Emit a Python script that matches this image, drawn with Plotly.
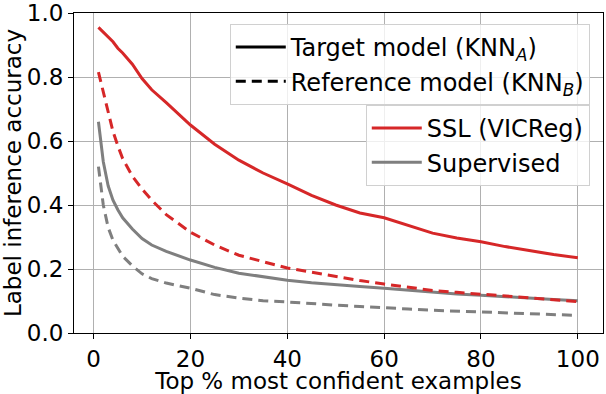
import plotly.graph_objects as go

pct = [1, 2, 3, 4, 5, 6, 8, 10, 12, 15, 20, 25, 30, 35, 40, 45, 50, 55, 60, 65, 70, 75, 80, 85, 90, 95, 100]

ssl_target = [0.955, 0.94, 0.925, 0.91, 0.89, 0.875, 0.84, 0.795, 0.76, 0.72, 0.65, 0.59, 0.54, 0.50, 0.466,
              0.43, 0.40, 0.375, 0.36, 0.337, 0.312, 0.297, 0.285, 0.27, 0.257, 0.245, 0.235]
ssl_reference = [0.815, 0.75, 0.69, 0.63, 0.585, 0.545, 0.49, 0.45, 0.415, 0.37, 0.315, 0.275, 0.243, 0.222, 0.203,
                 0.19, 0.176, 0.164, 0.153, 0.143, 0.133, 0.127, 0.122, 0.116, 0.11, 0.104, 0.098]
sup_target = [0.66, 0.535, 0.46, 0.415, 0.385, 0.36, 0.325, 0.295, 0.275, 0.255, 0.228, 0.205, 0.187, 0.175, 0.165,
              0.157, 0.15, 0.145, 0.14, 0.134, 0.127, 0.122, 0.118, 0.113, 0.109, 0.105, 0.101]
sup_reference = [0.52, 0.40, 0.33, 0.29, 0.265, 0.24, 0.21, 0.185, 0.17, 0.156, 0.14, 0.12, 0.109, 0.101, 0.097,
                 0.091, 0.087, 0.083, 0.08, 0.075, 0.071, 0.068, 0.065, 0.062, 0.06, 0.058, 0.055]

x_ticks = [0, 20, 40, 60, 80, 100]
y_ticks = [0.0, 0.2, 0.4, 0.6, 0.8, 1.0]
y_tick_labels = ["0.0", "0.2", "0.4", "0.6", "0.8", "1.0"]

RED = "#d62728"
GRAY = "#7f7f7f"
LW = 3
DASH = "10px,6px"
FONT = "DejaVu Sans"
FS = 23
LFS = 24

fig = go.Figure()

# data traces
fig.add_trace(go.Scatter(x=pct, y=ssl_target, mode="lines", line=dict(color=RED, width=LW),
                         name="SSL (VICReg)", legend="legend2", showlegend=True))
fig.add_trace(go.Scatter(x=pct, y=sup_target, mode="lines", line=dict(color=GRAY, width=LW),
                         name="Supervised", legend="legend2", showlegend=True))
fig.add_trace(go.Scatter(x=pct, y=ssl_reference, mode="lines", line=dict(color=RED, width=LW, dash=DASH),
                         showlegend=False))
fig.add_trace(go.Scatter(x=pct, y=sup_reference, mode="lines", line=dict(color=GRAY, width=LW, dash=DASH),
                         showlegend=False))

# style legend entries
fig.add_trace(go.Scatter(x=[None], y=[None], mode="lines", line=dict(color="black", width=LW),
                         name="Target model (KNN<sub><i>A</i></sub>)", legend="legend"))
fig.add_trace(go.Scatter(x=[None], y=[None], mode="lines", line=dict(color="black", width=LW, dash=DASH),
                         name="Reference model (KNN<sub><i>B</i></sub>)", legend="legend"))

legend_common = dict(
    bgcolor="rgba(255,255,255,0.8)",
    bordercolor="#d0d0d0",
    borderwidth=1,
    font=dict(family=FONT, size=LFS, color="black"),
    xanchor="right",
    yanchor="top",
    tracegroupgap=0,
    itemwidth=50,
)

fig.update_layout(
    width=606,
    height=394,
    margin=dict(l=74, r=3, t=13, b=61),
    paper_bgcolor="white",
    plot_bgcolor="white",
    font=dict(family=FONT, size=FS, color="black"),
    legend=dict(x=0.975, y=0.966, **legend_common),
    legend2=dict(x=0.975, y=0.7125, **legend_common),
    xaxis=dict(
        range=[-4.05, 105.2],
        tickvals=x_ticks,
        ticktext=[str(v) for v in x_ticks],
        showgrid=True, gridcolor="#b0b0b0", gridwidth=1,
        zeroline=False,
        showline=True, linecolor="black", linewidth=1, mirror=True,
        ticks="outside", ticklen=5, tickcolor="black",
        tickfont=dict(family=FONT, size=FS, color="black"),
        ticklabeloverflow="allow",
        automargin=False,
        title=dict(text="Top % most confident examples", font=dict(family=FONT, size=FS, color="black"), standoff=2),
    ),
    yaxis=dict(
        range=[0, 1],
        tickvals=y_ticks,
        ticktext=y_tick_labels,
        showgrid=True, gridcolor="#b0b0b0", gridwidth=1,
        zeroline=False,
        showline=True, linecolor="black", linewidth=1, mirror=True,
        ticks="outside", ticklen=5, tickcolor="black",
        tickfont=dict(family=FONT, size=FS, color="black"),
        ticklabeloverflow="allow",
        automargin=False,
        title=dict(text="Label inference accuracy", font=dict(family=FONT, size=FS, color="black"), standoff=2),
    ),
)

# remove the browser's default 8px body margin so the figure fills the window exactly
fig.write_html("out.html", config={"displayModeBar": False},
               post_script="document.body.style.margin='0';")
